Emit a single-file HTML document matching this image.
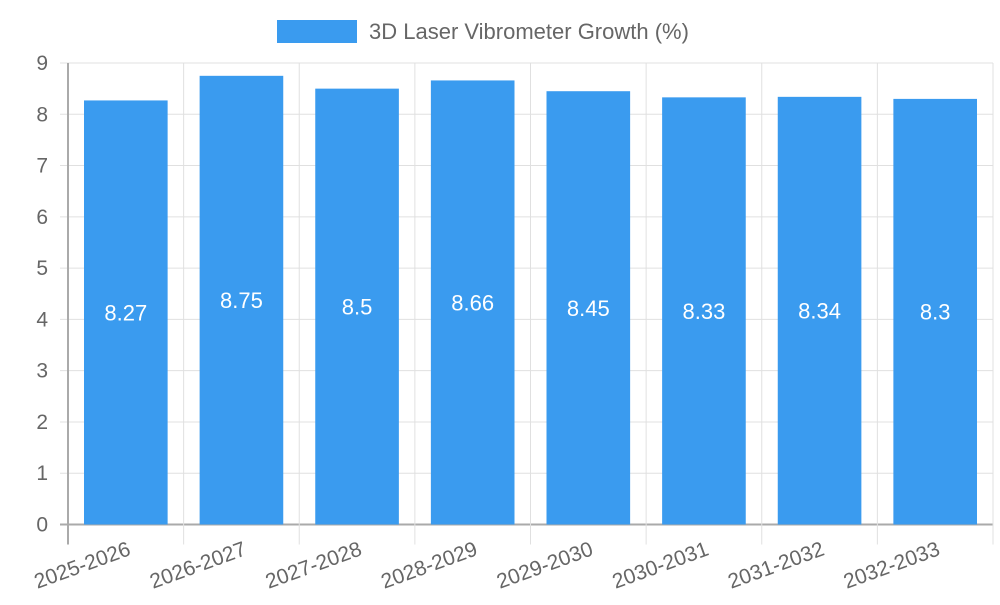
<!DOCTYPE html>
<html><head><meta charset="utf-8"><style>
body{margin:0;background:#fff;font-family:"Liberation Sans",sans-serif}
</style></head><body>
<svg id="c" width="1000" height="600" xmlns="http://www.w3.org/2000/svg" font-family="Liberation Sans, sans-serif">
<g>
<rect x="277" y="20" width="80" height="23" fill="#3a9bef"/>
<text x="369" y="39" font-size="22" fill="#666">3D Laser Vibrometer Growth (%)</text>
</g>
</svg>
<script>
const categories=["2025-2026","2026-2027","2027-2028","2028-2029","2029-2030","2030-2031","2031-2032","2032-2033"];
const values=[8.27,8.75,8.5,8.66,8.45,8.33,8.34,8.3];
const yTicks=[0,1,2,3,4,5,6,7,8,9];
const svg=document.getElementById('c');
const NS='http://www.w3.org/2000/svg';
const X0=68,X1=993,Y0=524.5,Y1=63,YMAX=9;
const bw=(X1-X0)/categories.length;
const y=v=>Y0-(Y0-Y1)*v/YMAX;
const x=i=>X0+bw*i;
function mk(t,a,p){const e=document.createElementNS(NS,t);for(const k in a)e.setAttribute(k,a[k]);(p||svg).appendChild(e);return e;}
const grid=mk('g',{});


yTicks.forEach(t=>{
 const l=mk('line',{x1:X0-8,x2:X1,y1:y(t),y2:y(t),stroke:t===0?'#aaa':'#e0e0e0','stroke-width':t===0?2:1},grid);
 
 
 const tx=mk('text',{x:X0-20,y:y(t)+7,'font-size':21,fill:'#666','text-anchor':'end'});
 tx.textContent=t;
 
 
});
for(let i=0;i<=categories.length;i++){
 const l=mk('line',{x1:x(i),x2:x(i),y1:Y1,y2:Y0+20,stroke:i===0?'#aaa':'#e0e0e0','stroke-width':i===0?2:1},grid);
 
 
}
categories.forEach((c,i)=>{
 const bx=x(i)+16,w=bw-32;
 const r=mk('rect',{x:bx,y:y(values[i]),width:w,height:Y0-y(values[i]),fill:'#3a9bef'});
 
 
 const v=mk('text',{x:bx+w/2,y:(y(values[i])+Y0)/2+8,'font-size':22,fill:'#fff','text-anchor':'middle'});
 v.textContent=values[i];
 
 
 const cx=x(i)+bw/2+6;
 const t=mk('text',{x:cx,y:Y0+30,'font-size':21,fill:'#666','text-anchor':'end',transform:`rotate(-20 ${cx} ${Y0+30})`});
 t.textContent=c;
 
 
});
</script>
</body></html>
